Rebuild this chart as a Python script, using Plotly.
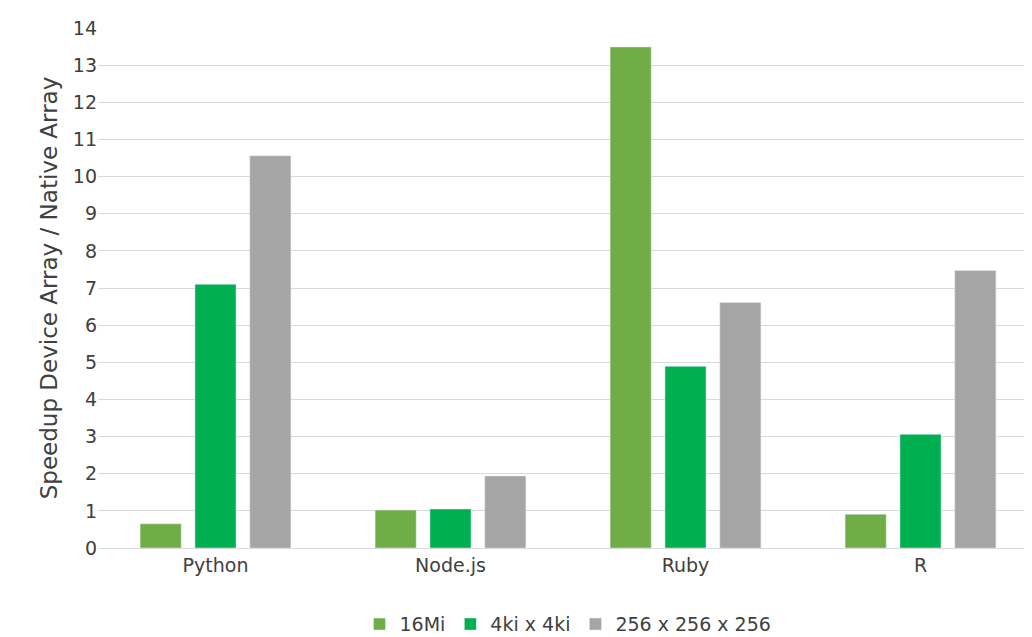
import plotly.graph_objects as go

categories = ["Python", "Node.js", "Ruby", "R"]
s16mi = [0.65, 1.02, 13.49, 0.91]
s4ki = [7.1, 1.05, 4.89, 3.06]
s256 = [10.56, 1.94, 6.61, 7.47]
names = ["16Mi", "4ki x 4ki", "256 x 256 x 256"]
colors = ["#70AD47", "#00B050", "#A5A5A5"]

fig = go.Figure()
for n, v, c in zip(names, [s16mi, s4ki, s256], colors):
    fig.add_trace(go.Bar(x=categories, y=v, name=n, marker_color=c))

fig.update_layout(
    width=1032, height=637,
    margin=dict(l=90, r=2, t=20, b=95),
    paper_bgcolor="white", plot_bgcolor="white",
    font=dict(family="DejaVu Sans", size=19, color="#404040"),
    barmode="group", bargap=0.3, bargroupgap=0.25,
    legend=dict(orientation="h", x=0.5, xanchor="center", y=-0.11, yanchor="top",
                font=dict(size=19)),
    yaxis=dict(range=[0, 14], dtick=1, gridcolor="#D9D9D9", zeroline=False,
               title=dict(text="Speedup Device Array / Native Array", standoff=8)),
    xaxis=dict(showline=True, linecolor="#D9D9D9", ticks=""),
)
fig.write_html("out.html")
